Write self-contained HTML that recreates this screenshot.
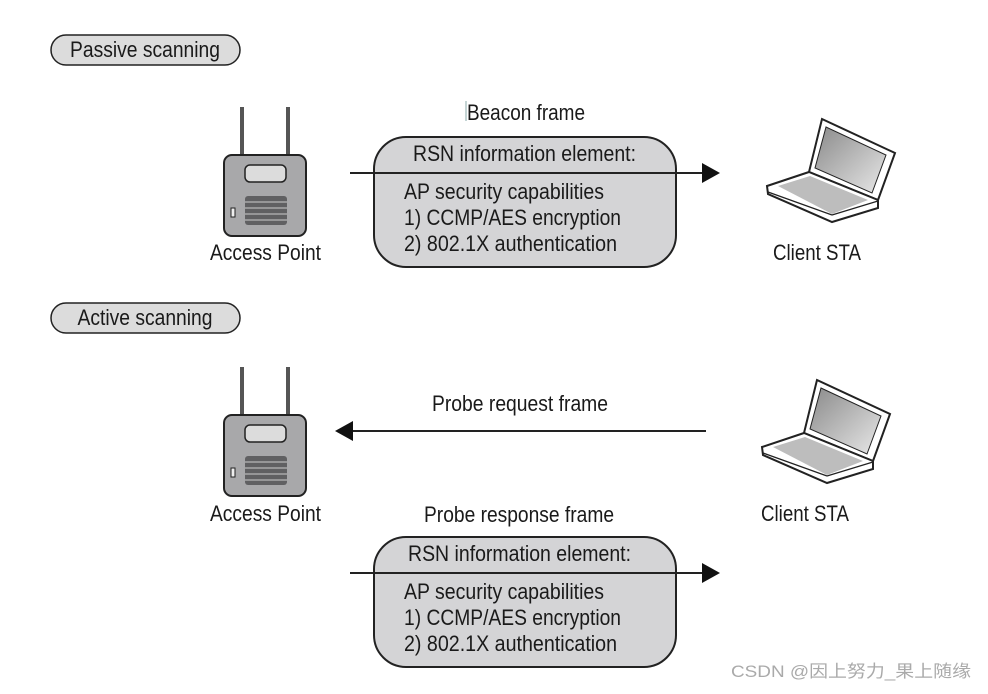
<!DOCTYPE html>
<html><head><meta charset="utf-8"><style>
html,body{margin:0;padding:0;background:#fff;}
svg text{font-family:"Liberation Sans Narrow","Liberation Sans",sans-serif;font-size:22px;fill:#1a1a1a;}
</style></head><body>
<svg width="988" height="689" viewBox="0 0 988 689" xmlns="http://www.w3.org/2000/svg">
<defs>
<linearGradient id="scr" x1="0" y1="0" x2="1" y2="1">
<stop offset="0" stop-color="#8a8a8a"/><stop offset="1" stop-color="#e8e8e8"/>
</linearGradient>
<g id="ap">
<rect x="240" y="107" width="4" height="50" fill="#555"/>
<rect x="286" y="107" width="4" height="50" fill="#555"/>
<rect x="224" y="155" width="82" height="81" rx="8" fill="#a8a8aa" stroke="#222" stroke-width="2"/>
<rect x="245" y="165" width="41" height="17" rx="5" fill="#dcdcdc" stroke="#222" stroke-width="1.5"/>
<rect x="245" y="196" width="42" height="29" rx="3" fill="#606062"/>
<line x1="245" y1="202" x2="287" y2="202" stroke="#ccc" stroke-width="1"/>
<line x1="245" y1="208" x2="287" y2="208" stroke="#ccc" stroke-width="1"/>
<line x1="245" y1="214" x2="287" y2="214" stroke="#ccc" stroke-width="1"/>
<line x1="245" y1="220" x2="287" y2="220" stroke="#ccc" stroke-width="1"/>
<rect x="231" y="208" width="4" height="9" fill="#eee" stroke="#222" stroke-width="1"/>
</g>
<g id="lap">
<polygon points="822,119 895,153 878,200 809,172" fill="#fff" stroke="#222" stroke-width="2"/>
<polygon points="826,127 886,155 872,193 815,168" fill="url(#scr)" stroke="#222" stroke-width="1"/>
<polygon points="767,186 809,172 878,200 878,208 832,222 768,194" fill="#fff" stroke="#222" stroke-width="2"/>
<polygon points="778,186 810,176 868,200 832,214" fill="#bdbdbd"/>
<line x1="768" y1="192" x2="832" y2="215" stroke="#222" stroke-width="1.2"/>
<line x1="832" y1="215" x2="878" y2="201" stroke="#222" stroke-width="1.2"/>
</g>
</defs>

<rect x="51" y="35" width="189" height="30" rx="15" fill="#dcdcdc" stroke="#222" stroke-width="1.5"/>
<text x="145" y="57" text-anchor="middle" textLength="150" lengthAdjust="spacingAndGlyphs">Passive scanning</text>
<use href="#ap"/>
<text x="210" y="260" textLength="111" lengthAdjust="spacingAndGlyphs">Access Point</text>
<line x1="466" y1="101" x2="466" y2="121" stroke="#8aa" stroke-width="1"/>
<text x="467" y="120" textLength="118" lengthAdjust="spacingAndGlyphs">Beacon frame</text>
<rect x="374" y="137" width="302" height="130" rx="32" fill="#d4d4d6" stroke="#222" stroke-width="2"/>
<line x1="350" y1="173" x2="703" y2="173" stroke="#222" stroke-width="2"/>
<polygon points="720,173 702,163 702,183" fill="#111"/>
<text x="413" y="161" textLength="223" lengthAdjust="spacingAndGlyphs">RSN information element:</text>
<text x="404" y="199" textLength="200" lengthAdjust="spacingAndGlyphs">AP security capabilities</text>
<text x="404" y="225" textLength="217" lengthAdjust="spacingAndGlyphs">1) CCMP/AES encryption</text>
<text x="404" y="251" textLength="213" lengthAdjust="spacingAndGlyphs">2) 802.1X authentication</text>
<use href="#lap"/>
<text x="773" y="260" textLength="88" lengthAdjust="spacingAndGlyphs">Client STA</text>

<rect x="51" y="303" width="189" height="30" rx="15" fill="#dcdcdc" stroke="#222" stroke-width="1.5"/>
<text x="145" y="325" text-anchor="middle" textLength="135" lengthAdjust="spacingAndGlyphs">Active scanning</text>
<use href="#ap" transform="translate(0,260)"/>
<text x="210" y="521" textLength="111" lengthAdjust="spacingAndGlyphs">Access Point</text>
<text x="432" y="411" textLength="176" lengthAdjust="spacingAndGlyphs">Probe request frame</text>
<line x1="706" y1="431" x2="352" y2="431" stroke="#222" stroke-width="2"/>
<polygon points="335,431 353,421 353,441" fill="#111"/>
<use href="#lap" transform="translate(-5,261)"/>
<text x="761" y="521" textLength="88" lengthAdjust="spacingAndGlyphs">Client STA</text>
<text x="424" y="522" textLength="190" lengthAdjust="spacingAndGlyphs">Probe response frame</text>
<rect x="374" y="537" width="302" height="130" rx="32" fill="#d4d4d6" stroke="#222" stroke-width="2"/>
<line x1="350" y1="573" x2="703" y2="573" stroke="#222" stroke-width="2"/>
<polygon points="720,573 702,563 702,583" fill="#111"/>
<text x="408" y="561" textLength="223" lengthAdjust="spacingAndGlyphs">RSN information element:</text>
<text x="404" y="599" textLength="200" lengthAdjust="spacingAndGlyphs">AP security capabilities</text>
<text x="404" y="625" textLength="217" lengthAdjust="spacingAndGlyphs">1) CCMP/AES encryption</text>
<text x="404" y="651" textLength="213" lengthAdjust="spacingAndGlyphs">2) 802.1X authentication</text>

<text x="731" y="677" style="font-family:'Liberation Sans','Noto Sans CJK SC',sans-serif;font-size:17px;fill:#aaa" textLength="240" lengthAdjust="spacingAndGlyphs">CSDN @因上努力_果上随缘</text>
</svg>
</body></html>
